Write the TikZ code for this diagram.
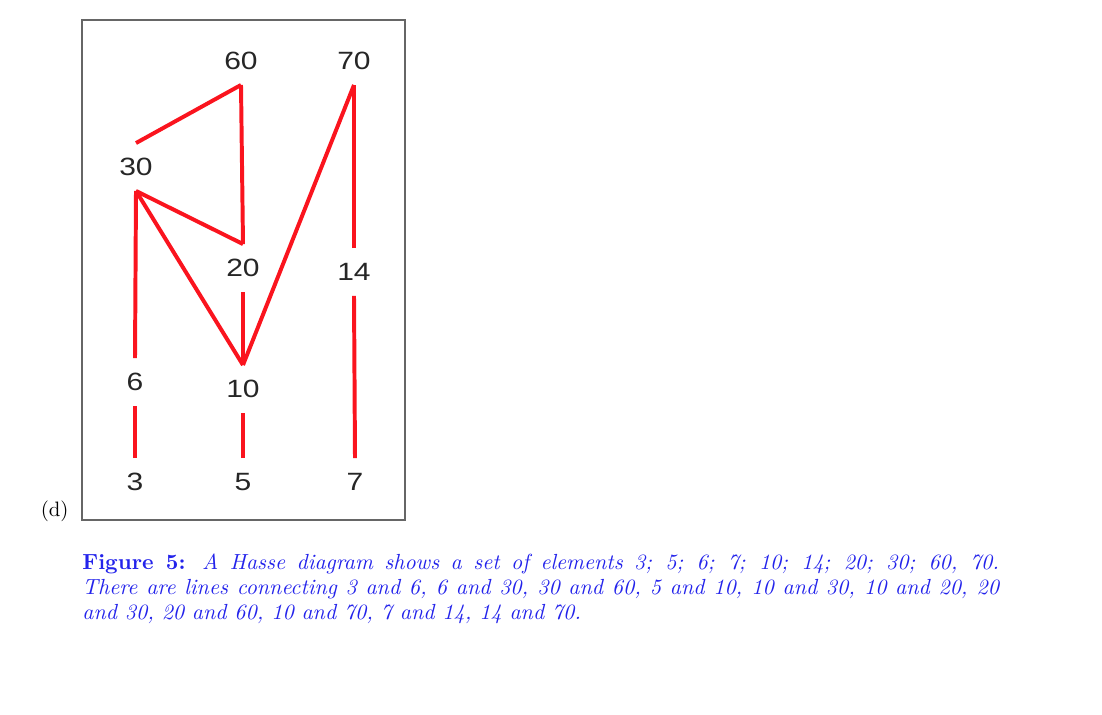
\documentclass[tikz,border=0pt]{standalone}
\usepackage{fontspec}
\newfontfamily\hassefont[FakeStretch=1.2]{Liberation Sans}
\definecolor{hassered}{RGB}{250,20,30}
\definecolor{capblue}{RGB}{35,35,235}
\tikzset{
  elem/.style={inner sep=0pt, minimum height=22.6pt, text=black!85,
    font=\hassefont\fontsize{12}{14}\selectfont},
  cover/.style={draw=hassered, line width=1.9pt}
}
\begin{document}
\begin{tikzpicture}[x=0.48pt, y=-0.48pt]
\useasboundingbox (0,0) rectangle (1102,714);

% Cadre
\draw[black!60, line width=0.5pt] (82,20) rectangle (405,520);
\node[anchor=base east, inner sep=0pt] (sublabel) at (69,516) {(d)};

% Elements
\node[elem] (n60) at (241,61) {60};
\node[elem] (n70) at (354,61) {70};
\node[elem] (n30) at (136,167) {30};
\node[elem] (n20) at (243,268) {20};
\node[elem] (n14) at (354,272) {14};
\node[elem] (n6)  at (135,382) {6};
\node[elem] (n10) at (243,389) {10};
\node[elem] (n3)  at (135,482) {3};
\node[elem] (n5)  at (243,482) {5};
\node[elem] (n7)  at (355,482) {7};

% Relations
\draw[cover] (n3.north) -- (n6.south);
\draw[cover] (n6.north) -- (n30.south);
\draw[cover] (n30.north) -- (n60.south);
\draw[cover] (n5.north) -- (n10.south);
\draw[cover] (n10.north) -- (n30.south);
\draw[cover] (n10.north) -- (n20.south);
\draw[cover] (n20.north) -- (n30.south);
\draw[cover] (n20.north) -- (n60.south);
\draw[cover] (n10.north) -- (n70.south);
\draw[cover] (n7.north) -- (n14.south);
\draw[cover] (n14.north) -- (n70.south);

% Legende
\node[anchor=base west, inner sep=0pt, text width=440pt, align=justify,
  text=capblue, font=\fontsize{10.5}{12}\selectfont] (caption) at (82,569)
  {\textbf{Figure 5:} \textit{A Hasse diagram shows a set of elements 3; 5; 6; 7; 10; 14; 20; 30; 60, 70.\linebreak There are lines connecting 3 and 6, 6 and 30, 30 and 60, 5 and 10, 10 and 30, 10 and 20, 20\linebreak and 30, 20 and 60, 10 and 70, 7 and 14, 14 and 70.}};

\end{tikzpicture}
\end{document}
